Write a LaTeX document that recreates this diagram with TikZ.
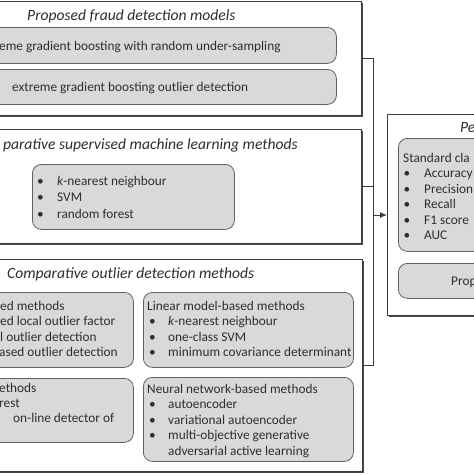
\documentclass[tikz,border=0pt]{standalone}
\usepackage{fontspec}
\setmainfont{Carlito}
\usetikzlibrary{arrows.meta,shadows}
\definecolor{edge}{HTML}{3C3C3C}
\definecolor{shade}{HTML}{4A4A4A}
\definecolor{pill}{HTML}{D9D9D9}
\definecolor{pilledge}{HTML}{606060}
\definecolor{ink}{HTML}{2E2E2E}
\newcommand{\bul}[2]{\hspace{#1}\makebox[#2][l]{•}}
\tikzset{
 outer/.style={draw=edge, line width=1.1pt, fill=white, anchor=north west, inner sep=0pt,
   drop shadow={shadow xshift=1.5pt, shadow yshift=-1.5pt, opacity=1, fill=shade}},
 pillbox/.style={draw=pilledge, line width=0.8pt, fill=pill, rounded corners=9pt, anchor=north west, inner sep=0pt},
 body/.style={font=\fontsize{13.3}{15.5}\selectfont, text=ink, inner sep=0pt},
 ttl/.style={font=\fontsize{15.6}{17}\selectfont\itshape, text=ink, inner sep=0pt},
 conn/.style={draw=edge, line width=0.9pt},
}
\begin{document}
\begin{tikzpicture}[x=1pt,y=-1pt]
\useasboundingbox (0,0) rectangle (474,474);
\fill[white] (0,0) rectangle (474,474);
\clip (0,0) rectangle (474,474);

% Box 1
\node[outer, minimum width=366pt, minimum height=114pt] (b1) at (-5,1) {};
\node[ttl, anchor=base west] (t1) at (27,20.5) {Proposed fraud detection models};
\node[pillbox, minimum width=396pt, minimum height=36pt] (p1a) at (-60,27) {};
\node[body, anchor=base west] (x1a) at (-1,50) {eme gradient boosting with random under-sampling};
\node[pillbox, minimum width=396pt, minimum height=35pt] (p1b) at (-60,69) {};
\node[body, anchor=base west] (x1b) at (12,91) {extreme gradient boosting outlier detection};

% Box 2
\node[outer, minimum width=366pt, minimum height=114pt] (b2) at (-5,129) {};
\node[ttl, anchor=base east] (t2) at (298,149.5) {parative supervised machine learning methods};
\node[pillbox, minimum width=202pt, minimum height=65pt] (p2) at (32,164) {};
\node[body, anchor=base west] (x2) at (37,185) {\begin{tabular}[t]{@{}l@{}}\bul{0pt}{20pt}\textit{k}-nearest neighbour\\[1pt] \bul{0pt}{20pt}SVM\\[1pt] \bul{0pt}{20pt}random forest\end{tabular}};

% Box 3
\node[outer, minimum width=367pt, minimum height=212pt] (b3) at (-5,259) {};
\node[ttl, anchor=base west] (t3) at (7,278.5) {Comparative outlier detection methods};

\node[pillbox, minimum width=193pt, minimum height=75pt] (p3a) at (-60,292) {};
\node[body, anchor=base west] (x3a1) at (0,310) {ed methods};
\node[body, anchor=base west] (x3a2) at (0,325.5) {ed local outlier factor};
\node[body, anchor=base west] (x3a3) at (0,341) {l outlier detection};
\node[body, anchor=base west] (x3a4) at (-1,356.5) {ased outlier detection};

\node[pillbox, minimum width=210pt, minimum height=75pt] (p3b) at (143,292) {};
\node[body, anchor=base west] (x3b) at (147,310) {\begin{tabular}[t]{@{}l@{}}Linear model-based methods\\ \bul{2pt}{19pt}\textit{k}-nearest neighbour\\ \bul{2pt}{19pt}one-class SVM\\ \bul{2pt}{19pt}minimum covariance determinant\end{tabular}};

\node[pillbox, minimum width=193pt, minimum height=64pt] (p3c) at (-60,378) {};
\node[body, anchor=base west] (x3c1) at (-1,392) {ethods};
\node[body, anchor=base west] (x3c2) at (-1,407.5) {rest};
\node[body, anchor=base west] (x3c3) at (13,422) {on-line detector of};

\node[pillbox, minimum width=210pt, minimum height=84pt] (p3d) at (143,377) {};
\node[body, anchor=base west] (x3d) at (147,393) {\begin{tabular}[t]{@{}l@{}}Neural network-based methods\\ \bul{2pt}{19pt}autoencoder\\ \bul{2pt}{19pt}variational autoencoder\\ \bul{2pt}{19pt}multi-objective generative\\ \hspace{21pt}adversarial active learning\end{tabular}};

% Right box
\node[outer, minimum width=143pt, minimum height=201pt] (perf) at (387,114) {};
\node[ttl, anchor=base west] (tp) at (460,132.5) {Pe};
\node[pillbox, minimum width=130pt, minimum height=113pt] (pr1) at (398,138) {};
\node[body, anchor=base west] (xr1) at (403,162) {\begin{tabular}[t]{@{}l@{}}Standard cla\\ \bul{0.5pt}{20.5pt}Accuracy\\ \bul{0.5pt}{20.5pt}Precision\\ \bul{0.5pt}{20.5pt}Recall\\ \bul{0.5pt}{20.5pt}F1 score\\ \bul{0.5pt}{20.5pt}AUC\end{tabular}};
\node[pillbox, minimum width=130pt, minimum height=35pt] (pr2) at (398,263) {};
\node[body, anchor=base west] (xr2) at (451,285) {Prop};

% Connectors
\coordinate (bus) at (373,0);
\draw[conn] (b1.east) -- (b1.east -| bus) -- (b3.east -| bus) -- (b3.east);
\draw[conn] (b2.east) -- (b2.east -| bus);
\draw[conn, -{Latex[length=7pt,width=6pt]}] (perf.west -| bus) -- (perf.west);
\end{tikzpicture}
\end{document}
